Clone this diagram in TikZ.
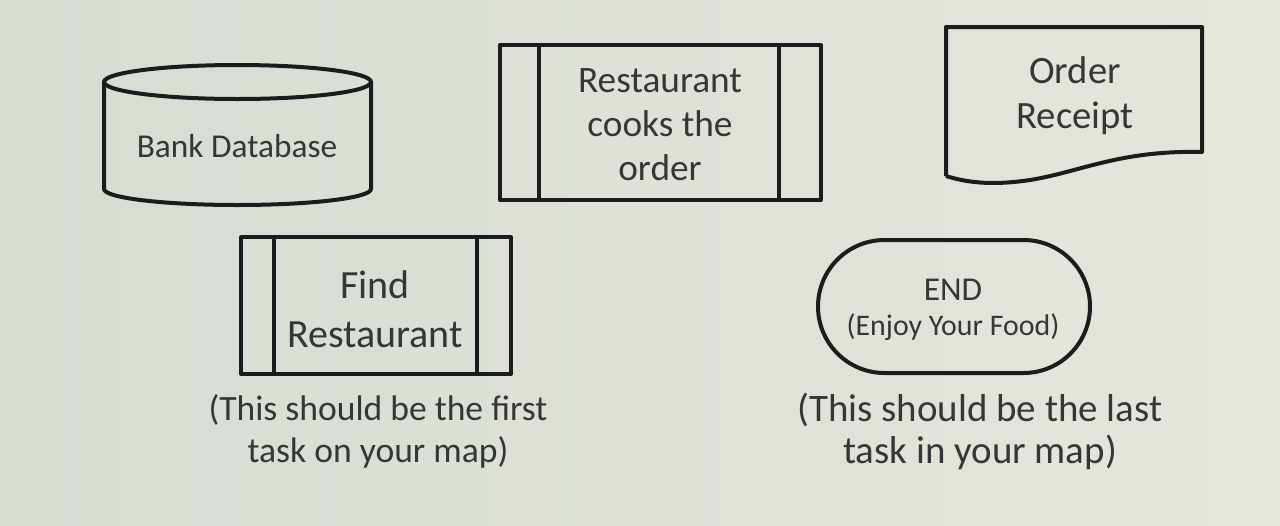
\documentclass[tikz,border=0pt]{standalone}
\usepackage{fontspec}
\setmainfont{Carlito}
\usetikzlibrary{shapes.misc}
\definecolor{bgl}{HTML}{D5DDD3}
\definecolor{bgr}{HTML}{E6E5DD}
\definecolor{ink}{HTML}{1C1C1C}
\definecolor{txt}{HTML}{353737}
\tikzset{
  shapeline/.style={draw=ink, line width=3pt, line join=round},
  lbl/.style={text=txt, align=center, inner sep=0pt},
  big/.style={lbl, font=\fontsize{28}{33}\selectfont},
  captiontxt/.style={lbl, font=\fontsize{26.7}{31.5}\selectfont},
}
\begin{document}
\begin{tikzpicture}[x=0.75pt,y=-0.75pt]
\shade[left color=bgl, right color=bgr] (0,0) rectangle (1280,525);
\useasboundingbox (0,0) rectangle (1280,525);

% Bank Database cylinder
\draw[shapeline] (104,82) -- (104,189) arc[start angle=180, end angle=0, x radius=133.5, y radius=16] -- (371,82);
\draw[shapeline] (237.5,82) ellipse[x radius=133.5, y radius=17];
\node[lbl, font=\fontsize{25}{30}\selectfont] (bank) at (237,146) {Bank Database};

% Restaurant cooks the order (predefined process)
\node[shapeline, minimum width=321*0.75pt, minimum height=155*0.75pt, inner sep=0pt] (cook) at (660.5,122.5) {};
\draw[shapeline] (539,45) -- (539,200);
\draw[shapeline] (779,45) -- (779,200);
\node[big] (cooktxt) at (660,125) {Restaurant\\cooks the\\order};

% Order Receipt (document)
\draw[shapeline] (946,176) -- (946,27) -- (1202,27) -- (1202,152)
  .. controls (1120,150) and (1080,172) .. (1030,180)
  .. controls (990,186) and (965,182) .. (946,176);
\node[lbl, font=\fontsize{29}{34}\selectfont] (receipt) at (1075,96) {Order\\Receipt};

% Find Restaurant (predefined process)
\node[shapeline, minimum width=270*0.75pt, minimum height=137*0.75pt, inner sep=0pt] (find) at (376,305.5) {};
\draw[shapeline] (274,237) -- (274,374);
\draw[shapeline] (477,237) -- (477,374);
\node[lbl, font=\fontsize{30}{37}\selectfont] (findtxt) at (375,309) {Find\\Restaurant};

% END terminal
\node[shapeline, rounded rectangle, minimum width=272*0.75pt, minimum height=133*0.75pt, inner sep=0pt] (end) at (954,306.5) {};
\node[lbl, font=\fontsize{25}{28}\selectfont] (endtxt) at (953,290) {END};
\node[lbl, font=\fontsize{22.4}{24}\selectfont] (enjoy) at (953,327) {(Enjoy Your Food)};

% captions
\node[captiontxt] (cap1) at (378,431) {(This should be the first\\task on your map)};
\node[captiontxt, font=\fontsize{29.2}{31.5}\selectfont] (cap2) at (980,431) {(This should be the last\\task in your map)};
\end{tikzpicture}
\end{document}
